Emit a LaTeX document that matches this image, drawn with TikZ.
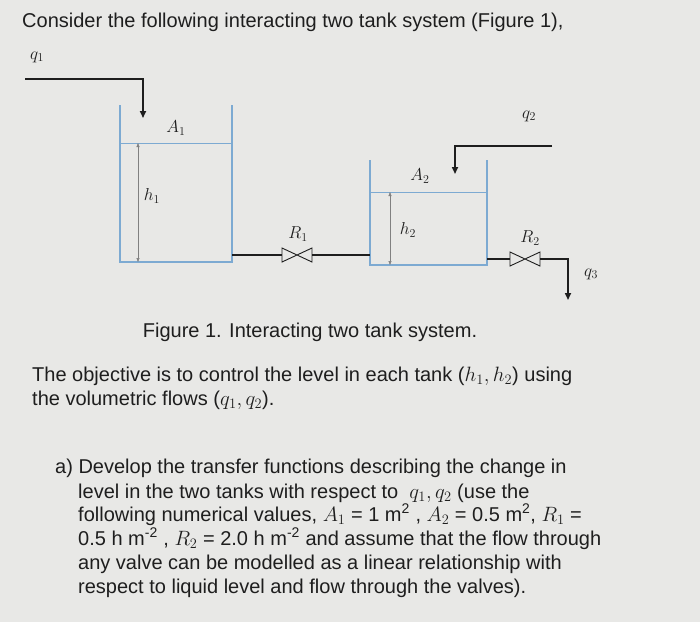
\documentclass[tikz,border=0pt]{standalone}
\usepackage{fontspec}
\setmainfont{Liberation Sans}
\usetikzlibrary{arrows.meta}
\definecolor{bg}{RGB}{232,232,230}
\definecolor{tank}{RGB}{125,170,210}
\definecolor{ink}{RGB}{30,30,30}
\begin{document}
\begin{tikzpicture}[x=1pt,y=-1pt,
  pipe/.style={draw=ink,line width=1.6pt},
  flow/.style={pipe,-{Triangle[length=7pt,width=6pt]}},
  tankwall/.style={draw=tank,line width=1.1pt},
  level/.style={draw=tank,line width=0.8pt},
  dim/.style={draw=gray,line width=0.5pt,{Triangle[length=4pt,width=3pt]}-{Triangle[length=4pt,width=3pt]}},
  lab/.style={font=\fontsize{17}{20}\selectfont,text=ink},
  txt/.style={anchor=base west,font=\fontsize{20}{24}\selectfont,text=ink,inner sep=0pt}]
\fill[bg] (0,0) rectangle (700,622);
\useasboundingbox (0,0) rectangle (700,622);
% tank 1
\draw[tankwall] (120,105) -- (120,262) -- (232,262) -- (232,105);
\draw[level] (120,143) -- (232,143);
\draw[dim] (138,143) -- (138,262);
% tank 2
\draw[tankwall] (370,160) -- (370,265) -- (487,265) -- (487,160);
\draw[level] (370,192) -- (487,192);
\draw[dim] (390,192) -- (390,265);
% inflows
\coordinate (q1s) at (25,79);
\coordinate (q1c) at (143,79);
\coordinate (q1e) at (143,118);
\draw[flow] (q1s) -- (q1c) -- (q1e);
\coordinate (q2s) at (552,146);
\coordinate (q2c) at (455,146);
\coordinate (q2e) at (455,174);
\draw[flow] (q2s) -- (q2c) -- (q2e);
% valve 1
\draw[pipe] (232,255) -- (282,255);
\draw[pipe] (312,255) -- (370,255);
\draw[ink,line width=0.9pt] (282,248) -- (312,262) -- (312,248) -- (282,262) -- cycle;
% valve 2
\draw[pipe] (487,259) -- (510,259);
\draw[ink,line width=0.9pt] (510,252) -- (540,266) -- (540,252) -- (510,266) -- cycle;
\coordinate (q3c) at (568,259);
\coordinate (q3e) at (568,300);
\draw[flow] (540,259) -- (q3c) -- (q3e);
% labels
\node[lab] (lq1) at (37,57) {$q_1$};
\node[lab] (lA1) at (176,128) {$A_1$};
\node[lab] (lh1) at (152,196) {$h_1$};
\node[lab] (lR1) at (298,234) {$R_1$};
\node[lab] (lA2) at (420,176) {$A_2$};
\node[lab] (lh2) at (408,230) {$h_2$};
\node[lab] (lq2) at (529,116) {$q_2$};
\node[lab] (lR2) at (530,238) {$R_2$};
\node[lab] (lq3) at (591,274) {$q_3$};
% text
\node[txt] (t0) at (22,27) {Consider the following interacting two tank system (Figure 1),};
\node[txt,anchor=base] (t1) at (310,337) {Figure 1. Interacting two tank system.};
\node[txt] (t2) at (32,381) {The objective is to control the level in each tank ($h_1,h_2$) using};
\node[txt] (t3) at (32,405) {the volumetric flows ($q_1,q_2$).};
\node[txt] (a0) at (55,473) {a) Develop the transfer functions describing the change in};
\node[txt] (a1) at (78,498) {level in the two tanks with respect to \;$q_1,q_2$ (use the};
\node[txt] (a2) at (78,521) {following numerical values, $A_1$ = 1 m\textsuperscript{2} , $A_2$ = 0.5 m\textsuperscript{2}, $R_1$ =};
\node[txt] (a3) at (78,545) {0.5 h m\textsuperscript{-2} , $R_2$ = 2.0 h m\textsuperscript{-2} and assume that the flow through};
\node[txt] (a4) at (78,569) {any valve can be modelled as a linear relationship with};
\node[txt] (a5) at (78,593) {respect to liquid level and flow through the valves).};
\end{tikzpicture}
\end{document}
